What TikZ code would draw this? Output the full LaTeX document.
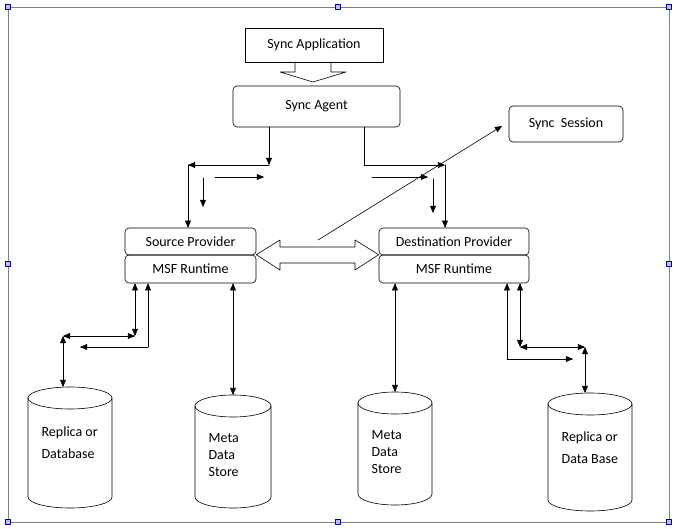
\documentclass[tikz,border=0pt]{standalone}
\usepackage{fontspec}
\setmainfont{Carlito}
\usetikzlibrary{arrows}
\newcommand{\storage}[5]{% name, x, top y, width, height
  \coordinate (#1) at (#2,#3-11);
  \draw (#2,#3) ellipse [x radius=#4/2, y radius=11];
  \draw (#2-#4/2,#3) -- (#2-#4/2,#3+#5-11) arc [start angle=180, end angle=0, x radius=#4/2, y radius=11] -- (#2+#4/2,#3);
}
\begin{document}
\begin{tikzpicture}[line cap=round,line join=round,>=triangle 45,x=1pt,y=-1pt,font=\fontsize{14}{16}\selectfont,line width=0.6pt]
\tikzset{
  box/.style={draw,rounded corners=4pt,inner sep=0pt},
  flat/.style={draw,inner sep=0pt},
  wire/.style={->},
  wires/.style={<->},
  handle/.style={draw=blue!60!black,fill=blue!25,line width=0.4pt}
}
\useasboundingbox (0,0) rectangle (676,529);
%rahmen
\draw[gray,line width=0.5pt] (8,7) rectangle (669,522);
\foreach \x/\y in {8/7,338/7,669/7,8/264,669/264,8/522,338/522,669/522}
{
\draw[handle] (\x-2.5,\y-2.5) rectangle (\x+2.5,\y+2.5);
}
%knoten
\node[flat,minimum width=138,minimum height=34] (app) at (314,45) {Sync Application};
\node[box,minimum width=167,minimum height=41] (agent) at (316.5,106.5) {Sync Agent};
\node[box,minimum width=114,minimum height=36] (sess) at (566,124) {Sync\ \ Session};
\node[box,minimum width=131,minimum height=27] (src) at (190.5,241.5) {Source Provider};
\node[box,minimum width=131,minimum height=28] (srcrt) at (190.5,269) {MSF Runtime};
\node[box,minimum width=150,minimum height=27] (dst) at (454,241.5) {Destination Provider};
\node[box,minimum width=150,minimum height=28] (dstrt) at (454,269) {MSF Runtime};
%speicher
\storage{repl}{70}{398}{84}{110}
\storage{metal}{233}{406}{76}{102}
\storage{metar}{395}{403}{74}{102}
\storage{replr}{590}{404}{84}{107}
\node[align=left,anchor=west] (repltxt) at (38,443) {Replica or\\[6pt]Database};
\node[align=left,anchor=west] (metaltxt) at (205,455) {Meta\\[1pt]Data\\[1pt]Store};
\node[align=left,anchor=west] (metartxt) at (368,452) {Meta\\[1pt]Data\\[1pt]Store};
\node[align=left,anchor=west] (replrtxt) at (558,448) {Replica or\\[6pt]Data Base};
%blockpfeile
\draw (295,62) -- (295,72) -- (280,72) -- (313,82) -- (346,72) -- (331,72) -- (331,62);
\draw (srcrt.north east) -- (280,240) -- (280,247) -- (355,247) -- (355,240) -- (dstrt.north west)
  -- (355,270) -- (355,263) -- (280,263) -- (280,270) -- cycle;
%koordinaten
\coordinate (a1) at (269,165);
\coordinate (a2) at (188,165);
\coordinate (a3) at (364,165);
\coordinate (a4) at (445,165);
\coordinate (l1) at (135,336);
\coordinate (l2) at (63,336);
\coordinate (l3) at (148,347);
\coordinate (l4) at (80,347);
\coordinate (r1) at (520,347);
\coordinate (r2) at (585,347);
\coordinate (r3) at (507,359);
\coordinate (r4) at (573,359);
\coordinate (x1) at (318,240);
\coordinate (x2) at (502,126);
%verbindungen oben
\draw[wire] (agent.south -| a1) -- (a1);
\draw[wire] (a1) -- (a2);
\draw[wire] (a2) -- (src.north -| a2);
\draw[wire] (203,178) -- (203,207);
\draw[wire] (215,177) -- (264,177);
\draw[wire] (agent.south -| a3) -- (a3) -- (a4);
\draw[wire] (a4) -- (dst.north -| a4);
\draw[wire] (372,177) -- (428,177);
\draw[wire] (433,179) -- (433,213);
\draw[wire] (x1) -- (x2);
%verbindungen unten
\draw[wires] (srcrt.south -| l1) -- (l1);
\draw[wires] (l2) -- (l1);
\draw[wires] (l2) -- (repl -| l2);
\draw[wire] (l3) -- (l4);
\draw[->] (l3) -- (srcrt.south -| l3);
\draw[wires] (srcrt.south -| metal) -- (metal);
\draw[wires] (dstrt.south -| metar) -- (metar);
\draw[wires] (dstrt.south -| r1) -- (r1);
\draw[wires] (r1) -- (r2);
\draw[wires] (r2) -- (replr -| r2);
\draw[->] (r3) -- (dstrt.south -| r3);
\draw[wire] (r3) -- (r4);
\end{tikzpicture}
\end{document}
